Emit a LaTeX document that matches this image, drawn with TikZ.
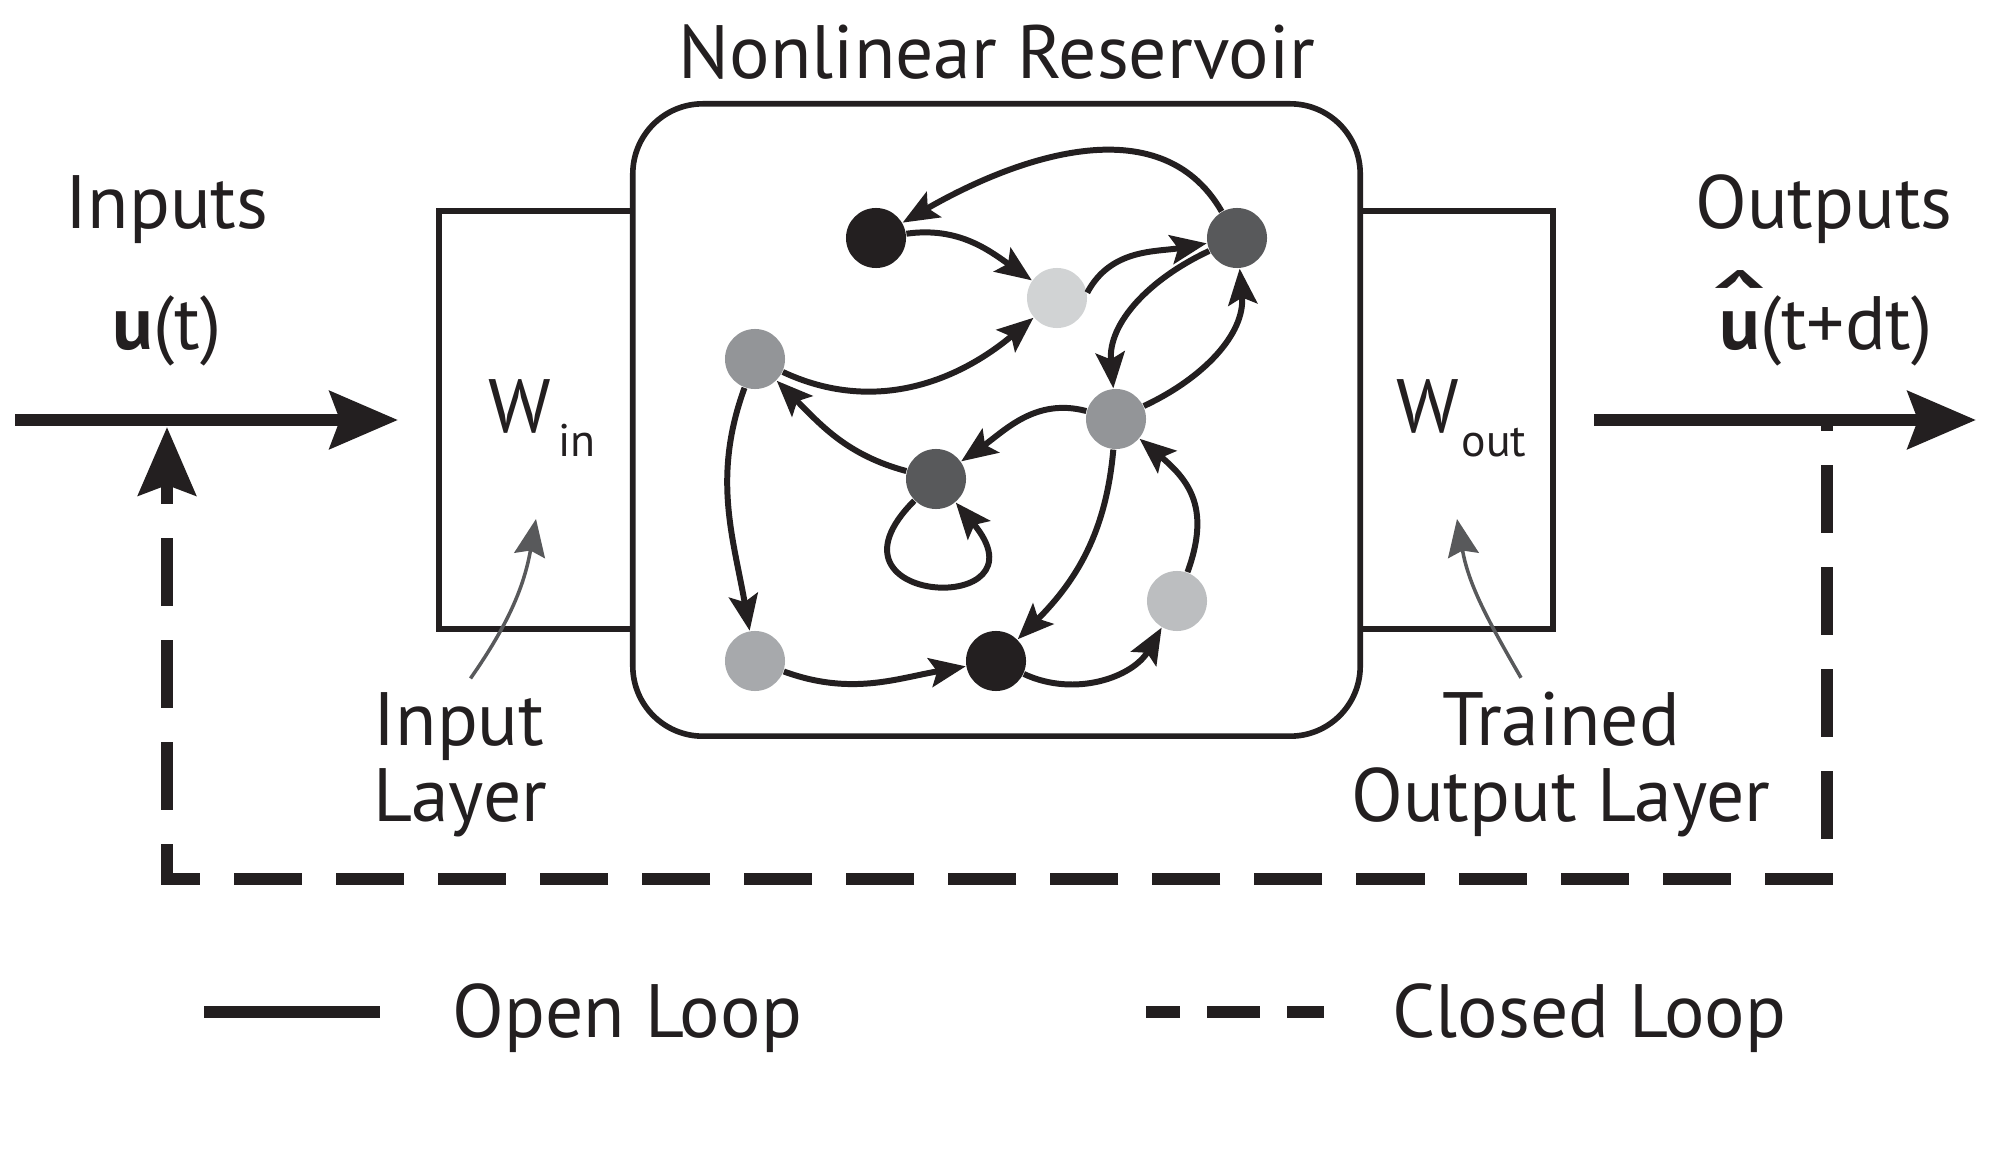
\documentclass[tikz,border=0pt]{standalone}
\usepackage{fontspec}
\usepackage{graphicx}
\setmainfont{PT Sans}
\usetikzlibrary{arrows.meta,positioning}

\definecolor{ink}{HTML}{231F20}
\definecolor{nblack}{HTML}{231F20}
\definecolor{ndark}{HTML}{58595B}
\definecolor{nmid}{HTML}{939598}
\definecolor{nlight}{HTML}{A7A9AC}
\definecolor{npale}{HTML}{BCBEC0}
\definecolor{nwhite}{HTML}{D1D3D4}

\newcommand{\lblsize}{\fontsize{21.5}{21.6}\selectfont}
\newcommand{\subsize}{\fontsize{13}{14}\selectfont}
\newcommand{\uhat}{\ooalign{\textbf{u}\cr\hidewidth\raisebox{0.1em}{\scalebox{2.4}[1.3]{\char"02C6}}\hidewidth\cr}}

\tikzset{
  cell/.style={circle, minimum size=0.6cm, inner sep=0pt},
  link/.style={draw=ink, line width=1.7pt,
    -{Stealth[length=0.36cm, width=0.29cm, inset=0.07cm]}},
  flow/.style={draw=ink, line width=3.4pt,
    -{Stealth[length=0.68cm, width=0.57cm, inset=0.1cm]}},
  feedback/.style={flow, dash pattern=on 0.68cm off 0.34cm, dash phase=0.57cm},
  pointer/.style={draw=ndark, line width=1pt,
    -{Stealth[length=0.37cm, width=0.31cm, inset=0.05cm]}},
  layerbox/.style={draw=ink, line width=1.6pt},
  lbl/.style={text=ink, font=\lblsize, inner sep=0pt},
  sublbl/.style={text=ink, font=\subsize, inner sep=0pt}
}

\begin{document}
\begin{tikzpicture}[x=0.01cm, y=-0.01cm]
  \fill[white] (0,0) rectangle (1996,1152);
  \useasboundingbox (0,0) rectangle (1996,1152);

  % layers
  \node[layerbox, minimum width=1.94cm, minimum height=4.18cm] (win) at (536,420) {};
  \node[layerbox, minimum width=1.93cm, minimum height=4.18cm] (wout) at (1456.5,420) {};
  \node[layerbox, fill=white, rounded corners=0.7cm,
        minimum width=7.27cm, minimum height=6.32cm] (res) at (996.5,420) {};
  \node[lbl, anchor=base] (title) at (997,79) {Nonlinear Reservoir};

  % reservoir cells
  \node[cell, fill=nblack] (r1) at (876,238) {};
  \node[cell, fill=nwhite] (r2) at (1057,298) {};
  \node[cell, fill=ndark]  (r3) at (1237,238) {};
  \node[cell, fill=nmid]   (r4) at (755,359) {};
  \node[cell, fill=nmid]   (r5) at (1116,419) {};
  \node[cell, fill=ndark]  (r6) at (936,479) {};
  \node[cell, fill=nlight] (r7) at (755,661) {};
  \node[cell, fill=nblack] (r8) at (996,661) {};
  \node[cell, fill=npale]  (r9) at (1177,601) {};

  \draw[link] (r1) to[out=8, in=145] (r2);
  \draw[link] (r3) to[out=120, in=30] (r1);
  \draw[link] (r2.10) to[out=62, in=190] (r3);
  \draw[link] (r4) to[out=-25, in=220] (r2);
  \draw[link] (r3) to[out=205, in=95] (r5);
  \draw[link] (r5) to[out=25, in=-85] (r3);
  \draw[link] (r5) to[out=165, in=35] (r6);
  \draw[link] (r6) to[out=165, in=-45] (r4);
  \draw[link] (r6) to[out=225, in=-50, min distance=1.5cm] (r6);
  \draw[link] (r4) to[out=250, in=100] (r7);
  \draw[link] (r7) to[out=-20, in=190] (r8);
  \draw[link] (r5) to[out=-95, in=45] (r8);
  \draw[link] (r8) to[out=-25, in=240] (r9);
  \draw[link] (r9) to[out=70, in=-40, looseness=1.2] (r5);

  % weights
  \node[lbl, anchor=base west] (wi) at (488,433) {W};
  \node[sublbl, base right=0.06cm of wi, yshift=-0.23cm] (wisub) {in};
  \node[lbl, anchor=base west] (wo) at (1396,433) {W};
  \node[sublbl, base right=0.01cm of wo, yshift=-0.23cm] (wosub) {out};

  % inputs and outputs
  \node[lbl, anchor=base] (inp) at (167,229) {Inputs};
  \node[lbl, anchor=base] (ut) at (167,350) {\textbf{u}(t)};
  \node[lbl, anchor=base] (outp) at (1824,229) {Outputs};
  \node[lbl, anchor=base] (uhat) at (1826,350) {\uhat(t+dt)};

  \coordinate (uA) at (15,420);
  \coordinate (uB) at (398,420);
  \coordinate (yA) at (1594,420);
  \coordinate (yB) at (1976,420);
  \draw[flow] (uA) -- (uB);
  \draw[flow] (yA) -- (yB);

  % closed loop
  \coordinate (fbR) at (1827,420);
  \coordinate (fbBR) at (1827,879);
  \coordinate (fbBL) at (167,879);
  \coordinate (fbL) at (167,427);
  \draw[feedback] (fbR) -- (fbBR) -- (fbBL) -- (fbL);

  % layer labels
  \node[lbl, align=left, anchor=base west] (inlab) at (373,821) {Input\\Layer};
  \node[lbl, align=center, anchor=base] (outlab) at (1561,821) {Trained\\Output Layer};
  \coordinate (winptr) at (536,519);
  \coordinate (woutptr) at (1457,519);
  \draw[pointer] ([shift={(10,-13)}]inlab.north) to[out=55, in=-100] (winptr);
  \draw[pointer] ([shift={(-40,-13)}]outlab.north) to[out=120, in=-80] (woutptr);

  % legend
  \coordinate (lgA) at (204,1012);
  \coordinate (lgB) at (380,1012);
  \coordinate (lgC) at (1146,1012);
  \coordinate (lgD) at (1324,1012);
  \draw[draw=ink, line width=3.4pt] (lgA) -- (lgB);
  \draw[draw=ink, line width=3.4pt, dash pattern=on 0.53cm off 0.27cm, dash phase=0.19cm] (lgC) -- (lgD);
  \node[lbl, anchor=base west] (openl) at (452,1037) {Open Loop};
  \node[lbl, anchor=base west] (closedl) at (1392,1037) {Closed Loop};
\end{tikzpicture}
\end{document}
